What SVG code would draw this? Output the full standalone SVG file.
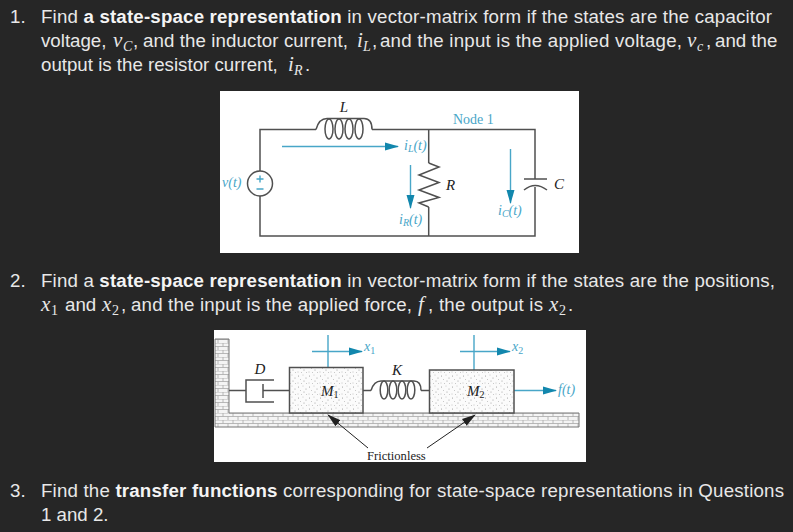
<svg xmlns="http://www.w3.org/2000/svg" width="793" height="532" viewBox="0 0 793 532">
<style>
.t{font-family:"Liberation Sans",Arial,sans-serif;font-size:18.7px;fill:#e8e8e8}
.b{font-weight:700;fill:#f4f4f4}
.m{font-family:"Liberation Serif","Times New Roman",serif;font-style:italic;font-size:21px}
.s{font-family:"Liberation Serif","Times New Roman",serif;font-style:italic;font-size:14px}
.n{font-family:"Liberation Serif","Times New Roman",serif;font-size:14px}
.w{fill:none;stroke:#505050;stroke-width:1.5}
.c{fill:none;stroke:#48a6c8;stroke-width:1.4}
.k{font-family:"Liberation Serif","Times New Roman",serif;font-size:15px;fill:#222}
.ki{font-style:italic}
.bl{font-family:"Liberation Serif","Times New Roman",serif;font-size:14px;fill:#48a6c8}
.sub{font-size:10px}
.mass{stroke:#505050;stroke-width:1.5;fill:url(#stip)}
</style>
<defs>
<marker id="ab" markerWidth="14" markerHeight="10" refX="13" refY="5" orient="auto" markerUnits="userSpaceOnUse"><path d="M0 1L14 5L0 9z" fill="#1287ad"/></marker>
<marker id="ak" markerWidth="14" markerHeight="10" refX="13" refY="5" orient="auto" markerUnits="userSpaceOnUse"><path d="M0 1L14 5L0 9z" fill="#222"/></marker>
<pattern id="brick" width="10" height="7" patternUnits="userSpaceOnUse">
<rect width="10" height="7" fill="#f4f4f4"/>
<path d="M0 0H10M0 3.500H10M3 0V3.500M8 3.500V7" stroke="#a8a8a8" stroke-width=".8" fill="none"/>
</pattern>
<pattern id="stip" width="11" height="11" patternUnits="userSpaceOnUse">
<rect width="11" height="11" fill="#fbfbfb"/>
<g fill="#8a8a8a"><circle cx="1.500" cy="2" r=".5"/><circle cx="6" cy="1" r=".4"/><circle cx="9" cy="4" r=".5"/><circle cx="3.500" cy="5.500" r=".4"/><circle cx="7" cy="7" r=".5"/><circle cx="1" cy="9" r=".45"/><circle cx="4.500" cy="9.500" r=".4"/><circle cx="9.500" cy="9.500" r=".4"/></g>
</pattern>
</defs>
<rect width="793" height="532" fill="#262626"/>

<g id="question-1">
<text class="t" x="10" y="23">1.</text>
<text class="t" x="41" y="23" textLength="731" lengthAdjust="spacing">Find <tspan class="b">a state-space representation</tspan> in vector-matrix form if the states are the capacitor</text>
<text class="t" x="41" y="47">voltage,<tspan class="m" x="113">v</tspan><tspan class="s" dy="4" x="123">C</tspan><tspan dy="-4" x="133">,</tspan><tspan x="143" textLength="205">and the inductor current,</tspan><tspan class="m" x="357">i</tspan><tspan class="s" dy="4" x="363">L</tspan><tspan dy="-4" x="372">,</tspan><tspan x="380" textLength="302">and the input is the applied voltage,</tspan><tspan class="m" x="687">v</tspan><tspan class="s" dy="4" x="697">c</tspan><tspan dy="-4" x="706">,</tspan><tspan x="715">and the</tspan></text>
<text class="t" x="41" y="71">output is the resistor current,<tspan class="m" x="288">i</tspan><tspan class="s" dy="4" x="294">R</tspan><tspan dy="-4" x="305">.</tspan></text>
</g>

<g id="circuit">
<rect x="220" y="91" width="359" height="162" fill="#fff"/>
<g id="circuit-wires">
<path class="w" d="M260 171V129.500H316M372 129.500H535V179M535 187V236H260V196M428.700 129.500V163M428.700 207V236"/>
<path class="c" d="M282 146.500H398" marker-end="url(#ab)"/>
<path class="c" d="M410.500 165V208" marker-end="url(#ab)"/>
<path class="c" d="M510.500 149V203" marker-end="url(#ab)"/>
</g>
<g id="inductor-L">
<path class="w" d="M316 129.500C318 122 322 118.500 327 118.500H364C369 118.500 372 122 372 129.500"/>
<ellipse class="w" cx="329" cy="129" rx="4" ry="10"/><ellipse class="w" cx="339" cy="129" rx="4" ry="10"/><ellipse class="w" cx="349" cy="129" rx="4" ry="10"/><ellipse class="w" cx="359" cy="129" rx="4" ry="10"/>
<text class="k ki" x="344" y="112" text-anchor="middle">L</text>
</g>
<g id="source">
<circle cx="260" cy="183.500" r="12.500" fill="#fff" stroke="#505050" stroke-width="1.500"/>
<path class="c" d="M256.500 179H263.500M260 175.500V182.500M256.500 189H263.500"/>
<text class="bl ki" x="222" y="187">v(t)</text>
</g>
<g id="resistor-R">
<path class="w" d="M428.700 163L439 167L419 175L439 182.500L419 190L439 197.500L419 203L428.700 207"/>
<text class="k ki" x="446" y="190">R</text>
</g>
<g id="capacitor-C">
<path class="w" d="M524 179H547M524 190Q535 181 547 190"/>
<text class="k ki" x="554" y="189">C</text>
</g>
<text id="node-1" class="bl" x="453" y="124">Node 1</text>
<text id="label-iL" class="bl ki" x="404" y="150">i<tspan class="sub" dy="2">L</tspan><tspan dy="-2">(t)</tspan></text>
<text id="label-iR" class="bl ki" x="399" y="224">i<tspan class="sub" dy="2">R</tspan><tspan dy="-2">(t)</tspan></text>
<text id="label-iC" class="bl ki" x="498" y="215">i<tspan class="sub" dy="2">C</tspan><tspan dy="-2">(t)</tspan></text>
</g>

<g id="question-2">
<text class="t" x="10" y="287">2.</text>
<text class="t" x="41" y="287" textLength="734" lengthAdjust="spacing">Find a <tspan class="b">state-space representation</tspan> in vector-matrix form if the states are the positions,</text>
<text class="t" x="41" y="311"><tspan class="m" x="41">x</tspan><tspan class="n" dy="4" x="51">1</tspan><tspan dy="-4" x="65">and</tspan><tspan class="m" x="102">x</tspan><tspan class="n" dy="4" x="112">2</tspan><tspan dy="-4" x="121">,</tspan><tspan x="131" textLength="281">and the input is the applied force,</tspan><tspan class="m" x="418">f</tspan><tspan x="428">,</tspan><tspan x="439" textLength="104">the output is</tspan><tspan class="m" x="549">x</tspan><tspan class="n" dy="4" x="559">2</tspan><tspan dy="-4" x="568">.</tspan></text>
</g>

<g id="mechanical">
<rect x="214" y="330" width="372" height="132" fill="#fff"/>
<g id="ground">
<path d="M215 339H229V413H579V427H215z" fill="url(#brick)" stroke="#777" stroke-width="1"/>
</g>
<g id="mech-connectors">
<path class="w" d="M229 390.500H246M263 390.500H289M363 390.500H371M421 390.500H429"/>
<path class="c" d="M328 335V367M312 351.500H362" marker-end="url(#ab)"/>
<path class="c" d="M474 335V370M460 351.500H510" marker-end="url(#ab)"/>
<path class="c" d="M514 390.500H556" marker-end="url(#ab)"/>
<path d="M368 448L328 415" fill="none" stroke="#222" stroke-width="1" marker-end="url(#ak)"/>
<path d="M427 448L475 415" fill="none" stroke="#222" stroke-width="1" marker-end="url(#ak)"/>
</g>
<g id="damper-D">
<path class="w" d="M274 380H246V402H274M263 384V398"/>
<text class="k ki" x="260" y="374" text-anchor="middle">D</text>
</g>
<g id="mass-1"><rect class="mass" x="289.500" y="367.500" width="73.500" height="45.500"/>
<text class="k ki" x="321" y="396">M<tspan class="sub" dy="2" font-style="normal">1</tspan></text></g>
<g id="mass-2"><rect class="mass" x="429.500" y="370" width="84.500" height="43"/>
<text class="k ki" x="467" y="396">M<tspan class="sub" dy="2" font-style="normal">2</tspan></text></g>
<g id="spring-K">
<path class="w" d="M371 390.500C373 384 376 381 381 381H414C419 381 421 385 421 390.500"/>
<ellipse class="w" cx="384" cy="390" rx="3.800" ry="9"/><ellipse class="w" cx="393" cy="390" rx="3.800" ry="9"/><ellipse class="w" cx="402" cy="390" rx="3.800" ry="9"/><ellipse class="w" cx="411" cy="390" rx="3.800" ry="9"/>
<text class="k ki" x="392" y="375">K</text>
</g>
<text id="label-x1" class="bl ki" x="364" y="351">x<tspan class="sub" dy="3" font-style="normal">1</tspan></text>
<text id="label-x2" class="bl ki" x="512" y="351">x<tspan class="sub" dy="3" font-style="normal">2</tspan></text>
<text id="label-f" class="bl ki" x="558" y="394">f(t)</text>
<text id="frictionless" class="k" style="font-size:12.600px" x="367" y="460">Frictionless</text>
</g>

<g id="question-3">
<text class="t" x="10" y="497">3.</text>
<text class="t" x="41" y="497" textLength="743" lengthAdjust="spacing">Find the <tspan class="b">transfer functions</tspan> corresponding for state-space representations in Questions</text>
<text class="t" x="41" y="521">1 and 2.</text>
</g>
</svg>
